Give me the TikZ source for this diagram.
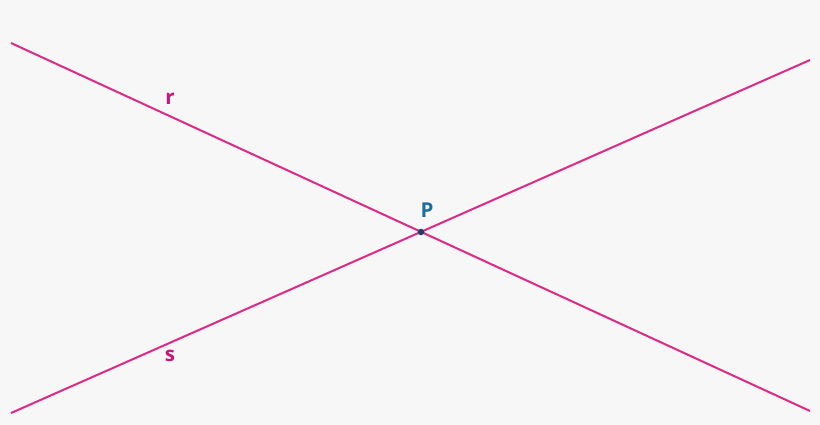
\documentclass[tikz,border=0pt]{standalone}
\usepackage{fontspec}
\setsansfont{Open Sans}
\definecolor{bg}{HTML}{F7F7F7}
\definecolor{linepink}{HTML}{DE2A84}
\definecolor{labelpink}{HTML}{C9157A}
\definecolor{pblue}{HTML}{1D6FA0}
\definecolor{dotnavy}{HTML}{1E3F66}
\begin{document}
\begin{tikzpicture}[x=1pt,y=-1pt,
  lineset/.style={draw=linepink,line width=2pt},
  linelabel/.style={text=labelpink,font=\sffamily\bfseries\fontsize{20.5}{22}\selectfont,inner sep=0pt},
  ptlabel/.style={text=pblue,font=\sffamily\bfseries\fontsize{20.5}{22}\selectfont,inner sep=0pt},
  ptdot/.style={circle,fill=dotnavy,inner sep=0pt,minimum size=6.5pt}]
\fill[bg] (0,0) rectangle (820,425);
\useasboundingbox (0,0) rectangle (820,425);
\coordinate (r1) at (11,43);
\coordinate (r2) at (810,411);
\coordinate (s1) at (11,413);
\coordinate (s2) at (810,60);
\draw[lineset] (r1) -- (r2);
\draw[lineset] (s1) -- (s2);
\node[ptdot] (P) at (421,232) {};
\node[ptlabel] (Plab) at (427,210) {P};
\node[linelabel] (rlab) at (170,99) {r};
\node[linelabel] (slab) at (170,356) {s};
\end{tikzpicture}
\end{document}
